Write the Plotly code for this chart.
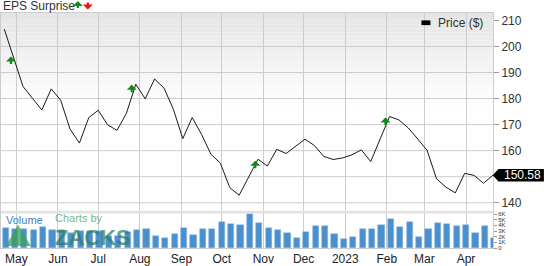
import pandas as pd
import plotly.graph_objects as go

# ---------------- data ----------------
start_date = "2022-04-22"
price = [206.7, 195.7, 184.6, 180.1, 175.6, 183.7, 179.4, 168.3, 162.9, 172.7,
         175.5, 169.9, 167.8, 174.3, 185.5, 179.9, 187.5, 184.0, 175.9, 164.6,
         172.7, 166.2, 158.6, 155.2, 145.8, 142.9, 149.8, 156.7, 154.1, 160.5,
         158.9, 161.5, 164.4, 162.0, 157.8, 156.6, 157.2, 158.4, 160.3, 155.8,
         164.3, 173.1, 171.8, 168.7, 164.5, 160.1, 149.2, 146.0, 143.8, 151.3,
         150.5, 147.5, 150.58]
volume_k = [3.5, 3.35, 3.35, 3.2, 3.65, 3.2, 3.2, 2.65, 2.95, 3.05,
            3.05, 2.17, 2.06, 2.77, 3.12, 3.35, 2.17, 1.82, 2.42, 3.53,
            2.24, 3.35, 3.35, 4.59, 4.18, 4.0, 5.94, 4.41, 3.47, 3.17,
            2.65, 1.71, 2.87, 3.83, 3.88, 2.42, 1.5, 1.89, 3.32, 3.32,
            4.06, 5.08, 3.62, 4.59, 1.89, 3.3, 4.46, 4.18, 3.83, 4.0,
            2.7, 3.83, 1.71]
dates = pd.date_range(start_date, periods=len(price), freq="7D")

eps_dates = ["2022-04-27", "2022-07-26", "2022-10-26", "2023-01-31"]
eps_prices = [196.1, 185.3, 156.1, 172.7]

month_ticks = ["2022-05-01", "2022-06-01", "2022-07-01", "2022-08-01", "2022-09-01",
               "2022-10-01", "2022-11-01", "2022-12-01", "2023-01-01", "2023-02-01",
               "2023-03-01", "2023-04-01"]
month_labels = ["May", "Jun", "Jul", "Aug", "Sep", "Oct", "Nov", "Dec", "2023",
                "Feb", "Mar", "Apr"]
price_ticks = [140, 150, 160, 170, 180, 190, 200, 210]
price_tick_labels = ["140", "", "160", "170", "180", "190", "200", "210"]  # 150 hidden by tag
price_grid = [140, 150, 160, 170, 180, 190, 200]
vol_ticks = [0, 1, 2, 3, 4, 5, 6]
vol_labels = ["0", "1K", "2K", "3K", "4K", "5K", "6K"]
last_price_label = "150.58"

# ---------------- geometry helpers ----------------
W, H = 544, 266
ML, MR, MT, MB = 0, 51, 13, 14
PW = W - ML - MR
PH = H - MT - MB


def px(x):
    return (x - ML) / PW


def py(y):
    return (H - MB - y) / PH


FONT = "Arial, Liberation Sans, sans-serif"
GRID = "#cccccc"
DAY = 86400000
GREEN = "#138a13"

fig = go.Figure()

# volume bars
fig.add_trace(go.Bar(x=dates, y=volume_k, xaxis="x", yaxis="y",
                     marker=dict(color="#4a90ce", line=dict(width=0.6, color="#86b6e0")),
                     width=4.6 * DAY, offset=-1.3 * DAY, showlegend=False,
                     hoverinfo="skip"))
# price line
fig.add_trace(go.Scatter(x=dates, y=price, xaxis="x2", yaxis="y2", mode="lines",
                         line=dict(color="#1a1a1a", width=1), showlegend=False))

price_bottom = py(214)
vol_top = py(216.5)

fig.update_layout(
    width=W, height=H,
    margin=dict(l=ML, r=MR, t=MT, b=MB, pad=0),
    paper_bgcolor="white", plot_bgcolor="white",
    font=dict(family=FONT, size=12, color="#333333"),
    bargap=0,
    xaxis=dict(domain=[0, 1], anchor="y", type="date",
               range=["2022-04-19 14:00", "2023-04-21 02:00"],
               tickvals=month_ticks, ticktext=month_labels, ticks="",
               showgrid=True, gridcolor=GRID, gridwidth=1,
               showline=True, linecolor=GRID, mirror=True,
               tickfont=dict(size=12, color="#222222"), zeroline=False),
    xaxis2=dict(domain=[0, 1], anchor="y2", type="date", matches="x",
                tickvals=month_ticks, showticklabels=False, ticks="",
                showgrid=True, gridcolor=GRID, gridwidth=1,
                showline=True, linecolor=GRID, mirror=True, zeroline=False),
    yaxis=dict(domain=[0, vol_top], range=[0, 6.17], side="right",
               tickvals=vol_ticks, ticktext=vol_labels, ticks="outside",
               ticklen=3, tickcolor="#999999", showgrid=False,
               showline=True, linecolor=GRID, mirror=True, zeroline=False,
               tickfont=dict(size=6, color="#333333")),
    yaxis2=dict(domain=[price_bottom, 1], range=[136.98, 212.83], side="right",
                tickvals=price_ticks, ticktext=price_tick_labels, ticks="outside",
                ticklen=5, tickcolor="#999999", showgrid=False,
                showline=True, linecolor=GRID, mirror=True, zeroline=False,
                tickfont=dict(size=12, color="#333333")),
)

shapes = []
# gradient background in price panel
top_y, fade_y = 13, 108
n = 24
for i in range(n):
    y0 = top_y + (fade_y - top_y) * i / n
    y1 = top_y + (fade_y - top_y) * (i + 1) / n
    t = (i + 0.5) / n
    c = int(229 + (255 - 229) * t)
    shapes.append(dict(type="rect", xref="paper", yref="paper", x0=0, x1=1,
                       y0=py(y1), y1=py(y0), fillcolor=f"rgb({c},{c},{c})",
                       line=dict(width=0), layer="below"))
# horizontal price gridlines
for v in price_grid:
    shapes.append(dict(type="line", xref="paper", yref="y2", x0=0, x1=1, y0=v, y1=v,
                       line=dict(color=GRID, width=1), layer="below"))
# band separating volume panel
shapes.append(dict(type="rect", xref="paper", yref="paper", x0=0, x1=1,
                   y0=py(217), y1=py(214), fillcolor="#e2e2e2",
                   line=dict(width=0), layer="above"))
# legend swatch
shapes.append(dict(type="rect", xref="paper", yref="paper", x0=px(421.3), x1=px(430.3),
                   y0=py(25.3), y1=py(20.5), fillcolor="#000000", line=dict(width=0)))
# last price tag (arrow + box)
ly = 150.58
yscale = (212.83 - 136.98) / ((1 - price_bottom) * PH)  # price units per px
hh = 6.3 * yscale
shapes.append(dict(type="path", xref="paper", yref="y2",
                   path=(f"M {px(492.7)},{ly} L {px(498.5)},{ly + hh} L {px(544)},{ly + hh} "
                         f"L {px(544)},{ly - hh} L {px(498.5)},{ly - hh} Z"),
                   fillcolor="#000000", line=dict(width=0)))
# Zacks logo triangle
shapes.append(dict(type="path", xref="paper", yref="paper",
                   path=f"M {px(5)},{py(250)} L {px(17)},{py(228)} L {px(30)},{py(250)} Z",
                   fillcolor="rgba(60,160,90,0.75)", line=dict(width=0)))
fig.update_layout(shapes=shapes)

ann = []
ARROW = dict(showarrow=True, text="", arrowhead=1, arrowsize=0.75, arrowwidth=2.2,
             standoff=0, startstandoff=0)
# EPS surprise arrows
for d, p in zip(eps_dates, eps_prices):
    ann.append(dict(x=d, y=p, xref="x2", yref="y2", ax=0, ay=9,
                    arrowcolor=GREEN, **ARROW))
# title
ann.append(dict(x=px(0), y=py(5.5), xref="paper", yref="paper", text="EPS Surprise",
                showarrow=False, xanchor="left", yanchor="middle",
                font=dict(size=12, color="#333333")))
ann.append(dict(x=px(77), y=py(0.8), xref="paper", yref="paper", ax=0, ay=8.5,
                arrowcolor=GREEN, **ARROW))
ann.append(dict(x=px(87), y=py(9.5), xref="paper", yref="paper", ax=0, ay=-8.5,
                arrowcolor="#ee1111", **ARROW))
# legend text
ann.append(dict(x=px(436), y=py(23), xref="paper", yref="paper", text="Price ($)",
                showarrow=False, xanchor="left", yanchor="middle",
                font=dict(size=12, color="#333333")))
# last price label
ann.append(dict(x=px(502), y=ly, xref="paper", yref="y2", text=last_price_label,
                showarrow=False, xanchor="left", yanchor="middle",
                font=dict(size=12, color="#ffffff")))
# watermark + volume label (nudged apart so the texts do not collide)
ann.append(dict(x=px(52), y=py(221), xref="paper", yref="paper", text="Charts by",
                showarrow=False, xanchor="left", yanchor="middle",
                font=dict(size=11, color="rgba(90,170,110,0.85)")))
ann.append(dict(x=px(52), y=py(241), xref="paper", yref="paper", text="<b>ZACKS</b>",
                showarrow=False, xanchor="left", yanchor="middle",
                font=dict(size=22, color="rgba(45,125,95,0.72)")))
ann.append(dict(x=px(3), y=py(224), xref="paper", yref="paper", text="Volume",
                showarrow=False, xanchor="left", yanchor="middle",
                font=dict(size=11, color="#3d7fc2")))
fig.update_layout(annotations=ann)

fig.write_html("out.html")
